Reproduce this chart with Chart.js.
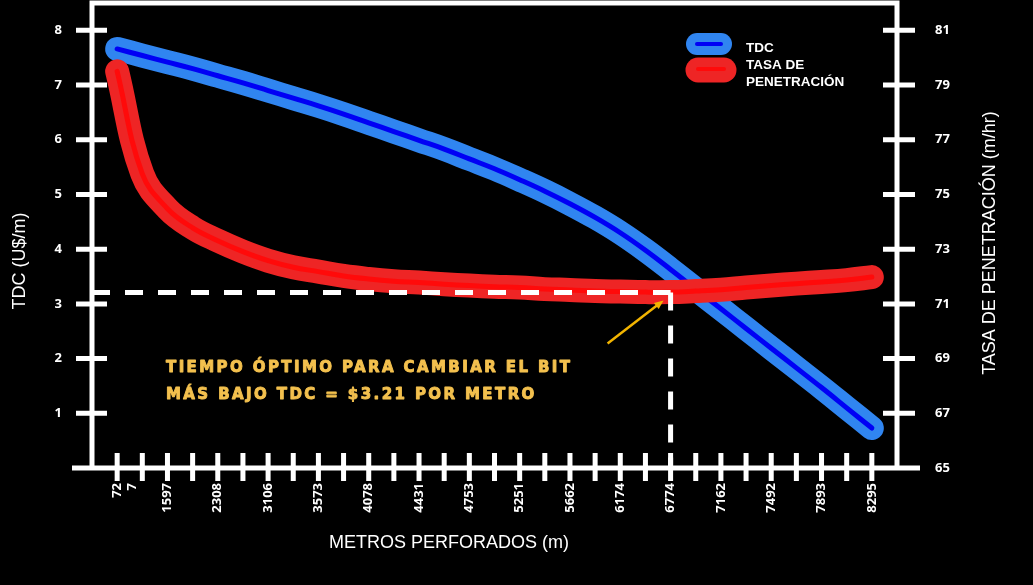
<!DOCTYPE html>
<html>
<head>
<meta charset="utf-8">
<script src="https://cdn.jsdelivr.net/npm/chart.js@4.4.1/dist/chart.umd.min.js"></script>
<style>
  html, body { margin: 0; padding: 0; background: #000; }
  canvas { display: block; }
</style>
</head>
<body>
<canvas id="chart" width="1033" height="585"></canvas>
<script>
// metros perforados: one label every second tick
const metros = ['727', '1597', '2308', '3106', '3573', '4078', '4431', '4753',
  '5251', '5662', '6174', '6774', '7162', '7492', '7893', '8295'];

// values read at each of the 31 tick marks
const tdc = [7.66, 7.54, 7.42, 7.30, 7.17, 7.04, 6.90, 6.76, 6.62, 6.47, 6.31,
  6.15, 5.99, 5.83, 5.65, 5.47, 5.27, 5.06, 4.83, 4.58, 4.30, 3.98, 3.63,
  3.27, 2.91, 2.55, 2.19, 1.83, 1.47, 1.10, 0.73];
const tasaPenetracion = [79.50, 75.75, 74.48, 73.78, 73.31, 72.91, 72.58, 72.34,
  72.18, 72.02, 71.91, 71.83, 71.78, 71.72, 71.67, 71.63, 71.60, 71.54, 71.51,
  71.47, 71.45, 71.43, 71.43, 71.47, 71.52, 71.60, 71.67, 71.74, 71.80, 71.87, 71.98];

const tdcTicks = [1, 2, 3, 4, 5, 6, 7, 8];
const tasaTicks = [65, 67, 69, 71, 73, 75, 77, 79, 81];

const indiceOptimo = 23;   // tick of 6774 m
const tdcOptimo = 3.21;

const azulGlow = '#3085f0', azulCore = '#0000f5';
const rojoGlow = '#ee2525', rojoCore = '#ff0a0a';
const fuente = '"Open Sans", sans-serif';

const puntos = serie => serie.map((v, i) => ({ x: i + 1, y: v }));

const linea = (data, color, width, axis, order) => ({
  data, borderColor: color, borderWidth: width, yAxisID: axis, order,
  pointRadius: 0, tension: 0.4,
  borderCapStyle: 'round', borderJoinStyle: 'round', clip: false
});

const dashed = (data) => ({
  data, borderColor: '#ffffff', borderWidth: 5, borderDash: [18, 15],
  yAxisID: 'y', order: 0, pointRadius: 0, tension: 0, clip: false
});

const sinPadding = s => { s.paddingTop = 0; s.paddingBottom = 0; s.paddingLeft = 0; s.paddingRight = 0; };

const decoracion = {
  id: 'decoracion',
  afterDraw(chart) {
    const { ctx, chartArea: a, scales } = chart;
    const { x, y, y1 } = scales;
    ctx.save();
    ctx.strokeStyle = '#fff';
    ctx.lineWidth = 5;
    ctx.lineCap = 'butt';
    ctx.beginPath();
    // frame
    ctx.moveTo(a.left, a.bottom); ctx.lineTo(a.left, a.top);
    ctx.lineTo(a.right, a.top); ctx.lineTo(a.right, a.bottom);
    ctx.moveTo(a.left - 20, a.bottom); ctx.lineTo(a.right + 23, a.bottom);
    // crossing tick marks
    x.ticks.forEach(t => {
      const px = x.getPixelForValue(t.value);
      ctx.moveTo(px, a.bottom - 15); ctx.lineTo(px, a.bottom + 13);
    });
    y.ticks.forEach(t => {
      const py = y.getPixelForValue(t.value);
      ctx.moveTo(a.left - 16, py); ctx.lineTo(a.left + 15, py);
    });
    y1.ticks.forEach(t => {
      const py = y1.getPixelForValue(t.value);
      ctx.moveTo(a.right - 14, py); ctx.lineTo(a.right + 18, py);
    });
    ctx.stroke();

    // axis titles
    ctx.fillStyle = '#fff';
    ctx.font = '18px "Liberation Sans", Arial, sans-serif';
    ctx.textAlign = 'center';
    ctx.textBaseline = 'middle';
    ctx.fillText('METROS PERFORADOS (m)', 449, 543);
    ctx.save();
    ctx.translate(20, 261); ctx.rotate(-Math.PI / 2);
    ctx.fillText('TDC (U$/m)', 0, 0);
    ctx.restore();
    ctx.save();
    ctx.translate(990, 243); ctx.rotate(-Math.PI / 2);
    ctx.fillText('TASA DE PENETRACIÓN (m/hr)', 0, 0);
    ctx.restore();

    // legend
    ctx.lineCap = 'round';
    ctx.strokeStyle = azulGlow; ctx.lineWidth = 22;
    ctx.beginPath(); ctx.moveTo(697, 44); ctx.lineTo(721, 44); ctx.stroke();
    ctx.strokeStyle = azulCore; ctx.lineWidth = 4;
    ctx.beginPath(); ctx.moveTo(697, 44); ctx.lineTo(721, 44); ctx.stroke();
    ctx.strokeStyle = rojoGlow; ctx.lineWidth = 25;
    ctx.beginPath(); ctx.moveTo(698, 70); ctx.lineTo(724, 70); ctx.stroke();
    ctx.strokeStyle = rojoCore; ctx.lineWidth = 4;
    ctx.beginPath(); ctx.moveTo(698, 69); ctx.lineTo(724, 69); ctx.stroke();
    ctx.fillStyle = '#fff';
    ctx.textAlign = 'left';
    ctx.font = 'bold 13.5px "Liberation Sans", Arial, sans-serif';
    ctx.fillText('TDC', 746, 48);
    ctx.fillText('TASA DE', 746, 65);
    ctx.fillText('PENETRACIÓN', 746, 82);

    // annotation arrow pointing at the optimum
    const hx = x.getPixelForValue(indiceOptimo) - 7;
    const hy = y.getPixelForValue(tdcOptimo) + 8;
    const tx = hx - 56, ty = hy + 43;
    const ang = Math.atan2(hy - ty, hx - tx);
    ctx.strokeStyle = '#f2b400'; ctx.fillStyle = '#f2b400';
    ctx.lineWidth = 2.5; ctx.lineCap = 'butt';
    ctx.beginPath(); ctx.moveTo(tx, ty); ctx.lineTo(hx - 6 * Math.cos(ang), hy - 6 * Math.sin(ang)); ctx.stroke();
    ctx.beginPath();
    ctx.moveTo(hx, hy);
    ctx.lineTo(hx - 10 * Math.cos(ang - 0.4), hy - 10 * Math.sin(ang - 0.4));
    ctx.lineTo(hx - 10 * Math.cos(ang + 0.4), hy - 10 * Math.sin(ang + 0.4));
    ctx.closePath(); ctx.fill();

    // annotation text
    ctx.fillStyle = '#f3c04e';
    ctx.strokeStyle = '#f3c04e';
    ctx.lineWidth = 0.9;
    ctx.lineJoin = 'round';
    ctx.font = 'bold 15px "DejaVu Sans", sans-serif';
    ctx.letterSpacing = '2.4px';
    ctx.textBaseline = 'alphabetic';
    const l1 = 'TIEMPO ÓPTIMO PARA CAMBIAR EL BIT';
    const l2 = 'MÁS BAJO TDC = $3.21 POR METRO';
    ctx.fillText(l1, 166, 372); ctx.strokeText(l1, 166, 372);
    ctx.fillText(l2, 166, 399); ctx.strokeText(l2, 166, 399);
    ctx.restore();
  }
};

new Chart(document.getElementById('chart'), {
  type: 'line',
  data: {
    datasets: [
      dashed([{ x: 0, y: tdcOptimo }, { x: indiceOptimo, y: tdcOptimo }]),
      dashed([{ x: indiceOptimo, y: tdcOptimo }, { x: indiceOptimo, y: 0 }]),
      linea(puntos(tasaPenetracion), rojoCore, 5, 'y1', 1),
      linea(puntos(tasaPenetracion), rojoGlow, 24, 'y1', 2),
      linea(puntos(tdc), azulCore, 5, 'y', 3),
      linea(puntos(tdc), azulGlow, 24, 'y', 4)
    ]
  },
  options: {
    responsive: false,
    animation: false,
    events: [],
    layout: { padding: { top: 3 } },
    plugins: { legend: { display: false }, tooltip: { enabled: false } },
    scales: {
      x: {
        type: 'linear', min: 0, max: tdc.length + 1,
        grid: { display: false, drawTicks: false },
        border: { display: false },
        afterBuildTicks: s => { s.ticks = tdc.map((_, i) => ({ value: i + 1 })); },
        afterFit: s => { s.height = 117; sinPadding(s); },
        ticks: {
          color: '#fff', autoSkip: false, maxRotation: 90, minRotation: 90, padding: 15,
          font: { family: fuente, size: 13, weight: 'bold' },
          callback: v => {
            if (v % 2 === 0) return '';
            const m = metros[(v - 1) / 2];
            return m === '727' ? ['72', '7'] : m;
          }
        }
      },
      y: {
        position: 'left', min: 0, max: 8.5,
        grid: { display: false, drawTicks: false },
        border: { display: false },
        afterBuildTicks: s => { s.ticks = tdcTicks.map(v => ({ value: v })); },
        afterFit: s => { s.width = 92; sinPadding(s); },
        ticks: { color: '#fff', padding: 30, font: { family: fuente, size: 13, weight: 'bold' } }
      },
      y1: {
        position: 'right', min: 65, max: 82,
        grid: { display: false, drawTicks: false },
        border: { display: false },
        afterBuildTicks: s => { s.ticks = tasaTicks.map(v => ({ value: v })); },
        afterFit: s => { s.width = 136; sinPadding(s); },
        ticks: { color: '#fff', padding: 38, font: { family: fuente, size: 13, weight: 'bold' } }
      }
    }
  },
  plugins: [decoracion]
});
</script>
</body>
</html>
